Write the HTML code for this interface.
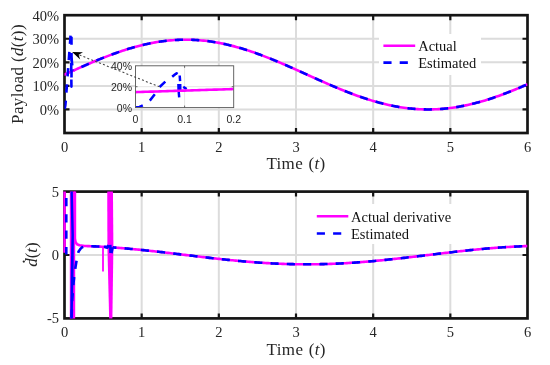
<!DOCTYPE html><html><head><meta charset="utf-8"><style>html,body{margin:0;padding:0;background:#fff;}svg{display:block;}.tk{font-family:"Liberation Serif",serif;font-size:14.5px;fill:#262626;}.lb{font-family:"Liberation Serif",serif;font-size:17px;fill:#262626;}.lg{font-family:"Liberation Serif",serif;font-size:14.5px;fill:#111;}.it{font-family:"Liberation Sans",sans-serif;font-size:10.5px;fill:#262626;}</style></head><body>
<svg width="550" height="365" viewBox="0 0 550 365">
<rect width="550" height="365" fill="#fff"/>
<defs><clipPath id="ct"><rect x="64.50" y="15.20" width="463.00" height="117.80"/></clipPath><clipPath id="cb"><rect x="63.00" y="191.60" width="464.50" height="126.80"/></clipPath><clipPath id="ci"><rect x="135.50" y="65.80" width="98.20" height="41.80"/></clipPath></defs>
<path d="M141.67,15.20 V133.00 M218.83,15.20 V133.00 M296.00,15.20 V133.00 M373.17,15.20 V133.00 M450.33,15.20 V133.00 M64.50,109.44 H527.50 M64.50,85.88 H527.50 M64.50,62.32 H527.50 M64.50,38.76 H527.50" stroke="#dcdcdc" stroke-width="2" fill="none"/>
<path d="M141.67,15.20 v5 M141.67,133.00 v-5 M218.83,15.20 v5 M218.83,133.00 v-5 M296.00,15.20 v5 M296.00,133.00 v-5 M373.17,15.20 v5 M373.17,133.00 v-5 M450.33,15.20 v5 M450.33,133.00 v-5 M64.50,109.44 h5 M527.50,109.44 h-5 M64.50,85.88 h5 M527.50,85.88 h-5 M64.50,62.32 h5 M527.50,62.32 h-5 M64.50,38.76 h5 M527.50,38.76 h-5" stroke="#151515" stroke-width="2.2" fill="none"/>
<rect x="64.50" y="15.20" width="463.00" height="117.80" fill="none" stroke="#151515" stroke-width="2.7"/>
<g clip-path="url(#ct)">
<path d="M64.00,74.57 L64.50,74.57 L66.43,73.70 L68.36,72.83 L70.29,71.96 L72.22,71.09 L74.15,70.22 L76.08,69.36 L78.00,68.50 L79.93,67.64 L81.86,66.79 L83.79,65.94 L85.72,65.10 L87.65,64.27 L89.58,63.44 L91.51,62.61 L93.44,61.80 L95.37,60.99 L97.30,60.19 L99.22,59.40 L101.15,58.62 L103.08,57.85 L105.01,57.09 L106.94,56.35 L108.87,55.61 L110.80,54.88 L112.73,54.17 L114.66,53.47 L116.59,52.78 L118.52,52.11 L120.45,51.45 L122.38,50.80 L124.30,50.17 L126.23,49.56 L128.16,48.96 L130.09,48.37 L132.02,47.81 L133.95,47.26 L135.88,46.72 L137.81,46.21 L139.74,45.71 L141.67,45.23 L143.60,44.77 L145.53,44.33 L147.45,43.90 L149.38,43.50 L151.31,43.11 L153.24,42.74 L155.17,42.40 L157.10,42.07 L159.03,41.77 L160.96,41.48 L162.89,41.22 L164.82,40.97 L166.75,40.75 L168.68,40.55 L170.60,40.37 L172.53,40.21 L174.46,40.07 L176.39,39.96 L178.32,39.86 L180.25,39.79 L182.18,39.74 L184.11,39.71 L186.04,39.70 L187.97,39.72 L189.90,39.75 L191.82,39.81 L193.75,39.89 L195.68,39.99 L197.61,40.12 L199.54,40.26 L201.47,40.43 L203.40,40.61 L205.33,40.82 L207.26,41.05 L209.19,41.30 L211.12,41.57 L213.05,41.87 L214.97,42.18 L216.90,42.51 L218.83,42.87 L220.76,43.24 L222.69,43.63 L224.62,44.04 L226.55,44.47 L228.48,44.92 L230.41,45.39 L232.34,45.88 L234.27,46.38 L236.20,46.90 L238.12,47.44 L240.05,48.00 L241.98,48.57 L243.91,49.16 L245.84,49.76 L247.77,50.38 L249.70,51.02 L251.63,51.67 L253.56,52.33 L255.49,53.01 L257.42,53.70 L259.35,54.41 L261.27,55.13 L263.20,55.86 L265.13,56.60 L267.06,57.35 L268.99,58.11 L270.92,58.89 L272.85,59.67 L274.78,60.46 L276.71,61.26 L278.64,62.07 L280.57,62.89 L282.50,63.72 L284.42,64.55 L286.35,65.39 L288.28,66.23 L290.21,67.08 L292.14,67.93 L294.07,68.79 L296.00,69.65 L297.93,70.51 L299.86,71.38 L301.79,72.25 L303.72,73.12 L305.65,73.99 L307.58,74.86 L309.50,75.74 L311.43,76.61 L313.36,77.48 L315.29,78.34 L317.22,79.21 L319.15,80.07 L321.08,80.93 L323.01,81.79 L324.94,82.64 L326.87,83.48 L328.80,84.32 L330.73,85.16 L332.65,85.98 L334.58,86.80 L336.51,87.62 L338.44,88.42 L340.37,89.21 L342.30,90.00 L344.23,90.78 L346.16,91.54 L348.09,92.30 L350.02,93.05 L351.95,93.78 L353.88,94.50 L355.80,95.21 L357.73,95.91 L359.66,96.59 L361.59,97.26 L363.52,97.91 L365.45,98.55 L367.38,99.18 L369.31,99.79 L371.24,100.38 L373.17,100.96 L375.10,101.52 L377.02,102.07 L378.95,102.59 L380.88,103.10 L382.81,103.60 L384.74,104.07 L386.67,104.53 L388.60,104.96 L390.53,105.38 L392.46,105.78 L394.39,106.16 L396.32,106.52 L398.25,106.86 L400.17,107.18 L402.10,107.47 L404.03,107.75 L405.96,108.01 L407.89,108.25 L409.82,108.46 L411.75,108.66 L413.68,108.83 L415.61,108.98 L417.54,109.11 L419.47,109.22 L421.40,109.31 L423.33,109.37 L425.25,109.42 L427.18,109.44 L429.11,109.44 L431.04,109.42 L432.97,109.37 L434.90,109.31 L436.83,109.22 L438.76,109.11 L440.69,108.98 L442.62,108.83 L444.55,108.65 L446.47,108.46 L448.40,108.24 L450.33,108.01 L452.26,107.75 L454.19,107.47 L456.12,107.17 L458.05,106.85 L459.98,106.51 L461.91,106.15 L463.84,105.77 L465.77,105.38 L467.70,104.96 L469.62,104.52 L471.55,104.07 L473.48,103.59 L475.41,103.10 L477.34,102.59 L479.27,102.06 L481.20,101.52 L483.13,100.95 L485.06,100.38 L486.99,99.78 L488.92,99.17 L490.85,98.55 L492.78,97.91 L494.70,97.25 L496.63,96.58 L498.56,95.90 L500.49,95.20 L502.42,94.49 L504.35,93.77 L506.28,93.04 L508.21,92.29 L510.14,91.54 L512.07,90.77 L514.00,89.99 L515.92,89.21 L517.85,88.41 L519.78,87.61 L521.71,86.80 L523.64,85.98 L525.57,85.15 L527.50,84.31" stroke="#ff00ff" stroke-width="2.60" fill="none" stroke-linejoin="round"/>
<path d="M64.50,108.73 L64.81,108.03 L65.12,106.61 L65.43,104.73 L65.73,101.19 L70.26,39.94 L70.67,34.05 L70.96,32.16 L71.46,35.93 L71.52,50.54 L71.54,69.86 L71.43,86.59 L71.24,69.86 L71.21,56.19 L71.57,57.37 L71.99,62.79 L72.55,67.50 L73.14,70.33 L73.61,70.57 L73.76,70.40" stroke="#0000ff" stroke-width="2.60" fill="none" stroke-dasharray="8.15 8.15" stroke-linejoin="round"/>
<path d="M73.61,70.57 L73.76,70.40 L74.53,70.05 L75.30,69.71 L76.08,69.36 L76.85,69.02 L77.62,68.67 L78.39,68.33 L79.16,67.99 L79.93,67.64 L80.71,67.30 L81.48,66.96 L82.25,66.62 L83.02,66.28 L83.79,65.94 L84.56,65.61 L85.34,65.27 L86.11,64.94 L86.88,64.60 L87.65,64.27 L88.42,63.93 L89.19,63.60 L89.97,63.27 L90.74,62.94 L91.51,62.61 L92.28,62.29 L93.05,61.96 L93.82,61.64 L94.60,61.31 L95.37,60.99 L96.14,60.67 L96.91,60.35 L97.68,60.04 L98.45,59.72 L99.23,59.40 L100.00,59.09 L100.77,58.78 L101.54,58.47 L102.31,58.16 L103.08,57.85 L103.86,57.55 L104.63,57.25 L105.40,56.94 L106.17,56.64 L106.94,56.35 L107.71,56.05 L108.49,55.75 L109.26,55.46 L110.03,55.17 L110.80,54.88 L111.57,54.60 L112.34,54.31 L113.12,54.03 L113.89,53.75 L114.66,53.47 L115.43,53.19 L116.20,52.92 L116.97,52.65 L117.75,52.38 L118.52,52.11 L119.29,51.84 L120.06,51.58 L120.83,51.32 L121.60,51.06 L122.38,50.80 L123.15,50.55 L123.92,50.30 L124.69,50.05 L125.46,49.80 L126.23,49.56 L127.01,49.32 L127.78,49.08 L128.55,48.84 L129.32,48.61 L130.09,48.37 L130.86,48.15 L131.64,47.92 L132.41,47.70 L133.18,47.48 L133.95,47.26 L134.72,47.04 L135.49,46.83 L136.27,46.62 L137.04,46.41 L137.81,46.21 L138.58,46.01 L139.35,45.81 L140.12,45.61 L140.90,45.42 L141.67,45.23 L142.44,45.04 L143.21,44.86 L143.98,44.68 L144.75,44.50 L145.53,44.33 L146.30,44.15 L147.07,43.98 L147.84,43.82 L148.61,43.66 L149.38,43.50 L150.16,43.34 L150.93,43.19 L151.70,43.04 L152.47,42.89 L153.24,42.74 L154.01,42.60 L154.79,42.47 L155.56,42.33 L156.33,42.20 L157.10,42.07 L157.87,41.95 L158.64,41.83 L159.42,41.71 L160.19,41.59 L160.96,41.48 L161.73,41.37 L162.50,41.27 L163.27,41.17 L164.05,41.07 L164.82,40.97 L165.59,40.88 L166.36,40.79 L167.13,40.71 L167.90,40.63 L168.68,40.55 L169.45,40.47 L170.22,40.40 L170.99,40.34 L171.76,40.27 L172.53,40.21 L173.31,40.15 L174.08,40.10 L174.85,40.05 L175.62,40.00 L176.39,39.96 L177.16,39.92 L177.94,39.88 L178.71,39.85 L179.48,39.82 L180.25,39.79 L181.02,39.77 L181.79,39.75 L182.57,39.73 L183.34,39.72 L184.11,39.71 L184.88,39.70 L185.65,39.70 L186.42,39.70 L187.20,39.71 L187.97,39.72 L188.74,39.73 L189.51,39.74 L190.28,39.76 L191.05,39.79 L191.83,39.81 L192.60,39.84 L193.37,39.87 L194.14,39.91 L194.91,39.95 L195.68,39.99 L196.46,40.04 L197.23,40.09 L198.00,40.14 L198.77,40.20 L199.54,40.26 L200.31,40.32 L201.09,40.39 L201.86,40.46 L202.63,40.54 L203.40,40.61 L204.17,40.70 L204.94,40.78 L205.72,40.87 L206.49,40.96 L207.26,41.05 L208.03,41.15 L208.80,41.25 L209.57,41.36 L210.35,41.46 L211.12,41.57 L211.89,41.69 L212.66,41.81 L213.43,41.93 L214.20,42.05 L214.98,42.18 L215.75,42.31 L216.52,42.44 L217.29,42.58 L218.06,42.72 L218.83,42.87 L219.61,43.01 L220.38,43.16 L221.15,43.31 L221.92,43.47 L222.69,43.63 L223.46,43.79 L224.23,43.96 L225.01,44.13 L225.78,44.30 L226.55,44.47 L227.32,44.65 L228.09,44.83 L228.86,45.01 L229.64,45.20 L230.41,45.39 L231.18,45.58 L231.95,45.78 L232.72,45.98 L233.49,46.18 L234.27,46.38 L235.04,46.59 L235.81,46.80 L236.58,47.01 L237.35,47.22 L238.12,47.44 L238.90,47.66 L239.67,47.88 L240.44,48.11 L241.21,48.34 L241.98,48.57 L242.75,48.80 L243.53,49.04 L244.30,49.28 L245.07,49.52 L245.84,49.76 L246.61,50.01 L247.38,50.26 L248.16,50.51 L248.93,50.76 L249.70,51.02 L250.47,51.28 L251.24,51.54 L252.01,51.80 L252.79,52.07 L253.56,52.33 L254.33,52.60 L255.10,52.87 L255.87,53.15 L256.64,53.42 L257.42,53.70 L258.19,53.98 L258.96,54.27 L259.73,54.55 L260.50,54.84 L261.27,55.13 L262.05,55.42 L262.82,55.71 L263.59,56.00 L264.36,56.30 L265.13,56.60 L265.90,56.90 L266.68,57.20 L267.45,57.50 L268.22,57.81 L268.99,58.11 L269.76,58.42 L270.53,58.73 L271.31,59.04 L272.08,59.35 L272.85,59.67 L273.62,59.98 L274.39,60.30 L275.16,60.62 L275.94,60.94 L276.71,61.26 L277.48,61.59 L278.25,61.91 L279.02,62.24 L279.79,62.56 L280.57,62.89 L281.34,63.22 L282.11,63.55 L282.88,63.88 L283.65,64.21 L284.42,64.55 L285.20,64.88 L285.97,65.22 L286.74,65.55 L287.51,65.89 L288.28,66.23 L289.05,66.57 L289.83,66.91 L290.60,67.25 L291.37,67.59 L292.14,67.93 L292.91,68.27 L293.68,68.62 L294.46,68.96 L295.23,69.31 L296.00,69.65 L296.77,70.00 L297.54,70.34 L298.31,70.69 L299.09,71.03 L299.86,71.38 L300.63,71.73 L301.40,72.08 L302.17,72.42 L302.94,72.77 L303.72,73.12 L304.49,73.47 L305.26,73.82 L306.03,74.17 L306.80,74.52 L307.57,74.86 L308.35,75.21 L309.12,75.56 L309.89,75.91 L310.66,76.26 L311.43,76.61 L312.20,76.95 L312.98,77.30 L313.75,77.65 L314.52,78.00 L315.29,78.34 L316.06,78.69 L316.83,79.04 L317.61,79.38 L318.38,79.73 L319.15,80.07 L319.92,80.42 L320.69,80.76 L321.46,81.10 L322.24,81.44 L323.01,81.79 L323.78,82.13 L324.55,82.47 L325.32,82.81 L326.09,83.14 L326.87,83.48 L327.64,83.82 L328.41,84.15 L329.18,84.49 L329.95,84.82 L330.72,85.16 L331.50,85.49 L332.27,85.82 L333.04,86.15 L333.81,86.48 L334.58,86.80 L335.35,87.13 L336.13,87.45 L336.90,87.78 L337.67,88.10 L338.44,88.42 L339.21,88.74 L339.98,89.06 L340.76,89.37 L341.53,89.69 L342.30,90.00 L343.07,90.31 L343.84,90.62 L344.61,90.93 L345.39,91.24 L346.16,91.54 L346.93,91.85 L347.70,92.15 L348.47,92.45 L349.24,92.75 L350.02,93.05 L350.79,93.34 L351.56,93.63 L352.33,93.92 L353.10,94.21 L353.87,94.50 L354.65,94.79 L355.42,95.07 L356.19,95.35 L356.96,95.63 L357.73,95.91 L358.50,96.18 L359.28,96.45 L360.05,96.72 L360.82,96.99 L361.59,97.26 L362.36,97.52 L363.13,97.78 L363.91,98.04 L364.68,98.30 L365.45,98.55 L366.22,98.80 L366.99,99.05 L367.76,99.30 L368.54,99.55 L369.31,99.79 L370.08,100.03 L370.85,100.26 L371.62,100.50 L372.39,100.73 L373.17,100.96 L373.94,101.19 L374.71,101.41 L375.48,101.63 L376.25,101.85 L377.02,102.07 L377.80,102.28 L378.57,102.49 L379.34,102.70 L380.11,102.90 L380.88,103.10 L381.65,103.30 L382.43,103.50 L383.20,103.69 L383.97,103.88 L384.74,104.07 L385.51,104.25 L386.28,104.44 L387.06,104.61 L387.83,104.79 L388.60,104.96 L389.37,105.13 L390.14,105.30 L390.91,105.46 L391.69,105.62 L392.46,105.78 L393.23,105.93 L394.00,106.08 L394.77,106.23 L395.54,106.38 L396.32,106.52 L397.09,106.65 L397.86,106.79 L398.63,106.92 L399.40,107.05 L400.17,107.18 L400.95,107.30 L401.72,107.42 L402.49,107.53 L403.26,107.64 L404.03,107.75 L404.80,107.86 L405.58,107.96 L406.35,108.06 L407.12,108.15 L407.89,108.25 L408.66,108.34 L409.43,108.42 L410.21,108.50 L410.98,108.58 L411.75,108.66 L412.52,108.73 L413.29,108.80 L414.06,108.86 L414.84,108.92 L415.61,108.98 L416.38,109.04 L417.15,109.09 L417.92,109.13 L418.69,109.18 L419.47,109.22 L420.24,109.26 L421.01,109.29 L421.78,109.32 L422.55,109.35 L423.32,109.37 L424.10,109.39 L424.87,109.41 L425.64,109.42 L426.41,109.43 L427.18,109.44 L427.95,109.44 L428.73,109.44 L429.50,109.43 L430.27,109.43 L431.04,109.42 L431.81,109.40 L432.58,109.38 L433.36,109.36 L434.13,109.34 L434.90,109.31 L435.67,109.27 L436.44,109.24 L437.21,109.20 L437.99,109.16 L438.76,109.11 L439.53,109.06 L440.30,109.01 L441.07,108.95 L441.84,108.89 L442.62,108.83 L443.39,108.76 L444.16,108.69 L444.93,108.62 L445.70,108.54 L446.47,108.46 L447.25,108.38 L448.02,108.29 L448.79,108.20 L449.56,108.10 L450.33,108.01 L451.10,107.91 L451.88,107.80 L452.65,107.70 L453.42,107.59 L454.19,107.47 L454.96,107.35 L455.73,107.23 L456.51,107.11 L457.28,106.98 L458.05,106.85 L458.82,106.72 L459.59,106.58 L460.36,106.44 L461.14,106.30 L461.91,106.15 L462.68,106.00 L463.45,105.85 L464.22,105.70 L464.99,105.54 L465.77,105.38 L466.54,105.21 L467.31,105.04 L468.08,104.87 L468.85,104.70 L469.62,104.52 L470.40,104.34 L471.17,104.16 L471.94,103.97 L472.71,103.78 L473.48,103.59 L474.25,103.40 L475.03,103.20 L475.80,103.00 L476.57,102.80 L477.34,102.59 L478.11,102.38 L478.88,102.17 L479.66,101.95 L480.43,101.74 L481.20,101.52 L481.97,101.29 L482.74,101.07 L483.51,100.84 L484.29,100.61 L485.06,100.38 L485.83,100.14 L486.60,99.90 L487.37,99.66 L488.14,99.42 L488.92,99.17 L489.69,98.92 L490.46,98.67 L491.23,98.42 L492.00,98.16 L492.77,97.91 L493.55,97.65 L494.32,97.38 L495.09,97.12 L495.86,96.85 L496.63,96.58 L497.40,96.31 L498.18,96.04 L498.95,95.76 L499.72,95.48 L500.49,95.20 L501.26,94.92 L502.03,94.64 L502.81,94.35 L503.58,94.06 L504.35,93.77 L505.12,93.48 L505.89,93.19 L506.66,92.89 L507.44,92.59 L508.21,92.29 L508.98,91.99 L509.75,91.69 L510.52,91.39 L511.29,91.08 L512.07,90.77 L512.84,90.46 L513.61,90.15 L514.38,89.84 L515.15,89.52 L515.92,89.21 L516.70,88.89 L517.47,88.57 L518.24,88.25 L519.01,87.93 L519.78,87.61 L520.55,87.28 L521.33,86.96 L522.10,86.63 L522.87,86.30 L523.64,85.98 L524.41,85.65 L525.18,85.31 L525.96,84.98 L526.73,84.65 L527.50,84.31" stroke="#0000ff" stroke-width="2.60" fill="none" stroke-dasharray="8.15 8.15" stroke-dashoffset="7.71" stroke-linejoin="round"/>
</g>
<text class="tk" x="59" y="114.84" text-anchor="end">0%</text>
<text class="tk" x="59" y="91.28" text-anchor="end">10%</text>
<text class="tk" x="59" y="67.72" text-anchor="end">20%</text>
<text class="tk" x="59" y="44.16" text-anchor="end">30%</text>
<text class="tk" x="59" y="20.60" text-anchor="end">40%</text>
<text class="tk" x="64.50" y="151.8" text-anchor="middle">0</text>
<text class="tk" x="141.67" y="151.8" text-anchor="middle">1</text>
<text class="tk" x="218.83" y="151.8" text-anchor="middle">2</text>
<text class="tk" x="296.00" y="151.8" text-anchor="middle">3</text>
<text class="tk" x="373.17" y="151.8" text-anchor="middle">4</text>
<text class="tk" x="450.33" y="151.8" text-anchor="middle">5</text>
<text class="tk" x="527.50" y="151.8" text-anchor="middle">6</text>
<text class="lb" x="266.4" y="169.4" letter-spacing="0.35">Time</text><text class="lb" x="308.6" y="169.4" letter-spacing="0.3">(<tspan font-style="italic">t</tspan>)</text>
<text class="lb" letter-spacing="0.35" transform="translate(22.5,74) rotate(-90)" text-anchor="middle">Payload (<tspan font-style="italic">d</tspan>(<tspan font-style="italic">t</tspan>))</text>
<rect x="379" y="34" width="102" height="41" fill="#fff"/>
<path d="M383.4,45.8 H415.2" stroke="#ff00ff" stroke-width="2.60"/>
<path d="M383.4,62.6 H415.2" stroke="#0000ff" stroke-width="2.60" stroke-dasharray="8.15 8.15"/>
<text class="lg" x="418.2" y="51.2">Actual</text>
<text class="lg" x="418.2" y="68.2">Estimated</text>
<rect x="135.50" y="65.80" width="98.20" height="41.80" fill="#fff"/>
<path d="M184.60,65.80 V107.60 M135.50,86.70 H233.70" stroke="#e6e6e6" stroke-width="1"/>
<g clip-path="url(#ci)">
<path d="M135.90,107.30 L139.50,106.90 L142.80,105.40 M149.80,100.60 L154.80,94.30 M159.60,87.00 L165.30,81.70 M172.20,76.80 L175.20,74.20 L176.60,73.30 L177.60,74.00 M179.70,75.50 L180.10,81.20 M180.20,84.00 L180.30,90.00 M178.40,84.00 L178.60,90.50 L179.20,97.30 M183.20,86.90 L186.70,89.00" stroke="#0000ff" stroke-width="2.5" fill="none" stroke-linejoin="round"/>
<path d="M135.50,92.13 L137.96,92.06 L140.41,91.98 L142.87,91.90 L145.32,91.82 L147.78,91.75 L150.23,91.67 L152.69,91.59 L155.14,91.52 L157.59,91.44 L160.05,91.36 L162.50,91.28 L164.96,91.21 L167.41,91.13 L169.87,91.05 L172.32,90.98 L174.78,90.90 L177.23,90.82 L179.69,90.74 L182.14,90.67 L184.60,90.59 L187.06,90.51 L189.51,90.44 L191.97,90.36 L194.42,90.28 L196.88,90.21 L199.33,90.13 L201.78,90.05 L204.24,89.98 L206.69,89.90 L209.15,89.82 L211.60,89.75 L214.06,89.67 L216.51,89.59 L218.97,89.52 L221.42,89.44 L223.88,89.37 L226.33,89.29 L228.79,89.21 L231.24,89.14 L233.70,89.06" stroke="#ff00ff" stroke-width="2.60" fill="none" stroke-linejoin="round"/>
</g>
<path d="M184.60,107.60 v-2 M184.60,65.80 v2 M135.50,86.70 h2 M233.70,86.70 h-2" stroke="#444" stroke-width="0.8"/>
<rect x="135.50" y="65.80" width="98.20" height="41.80" fill="none" stroke="#555" stroke-width="0.9"/>
<text class="it" x="132" y="112.20" text-anchor="end">0%</text>
<text class="it" x="132" y="91.20" text-anchor="end">20%</text>
<text class="it" x="132" y="69.50" text-anchor="end">40%</text>
<text class="it" x="135.50" y="123.3" text-anchor="middle">0</text>
<text class="it" x="184.60" y="123.3" text-anchor="middle">0.1</text>
<text class="it" x="233.70" y="123.3" text-anchor="middle">0.2</text>
<path d="M79.54,55.05 L160.00,87.00" stroke="#444" stroke-width="1.1" stroke-dasharray="2 2.2"/>
<path d="M72.10,52.10 L82.98,52.33 L78.61,54.68 L80.18,59.40 Z" fill="#000"/>
<path d="M141.67,191.60 V318.40 M218.83,191.60 V318.40 M296.00,191.60 V318.40 M373.17,191.60 V318.40 M450.33,191.60 V318.40 M64.50,255.00 H527.50" stroke="#dcdcdc" stroke-width="2" fill="none"/>
<path d="M141.67,191.60 v5 M141.67,318.40 v-5 M218.83,191.60 v5 M218.83,318.40 v-5 M296.00,191.60 v5 M296.00,318.40 v-5 M373.17,191.60 v5 M373.17,318.40 v-5 M450.33,191.60 v5 M450.33,318.40 v-5 M64.50,255.00 h5 M527.50,255.00 h-5" stroke="#151515" stroke-width="2.2" fill="none"/>
<rect x="64.50" y="191.60" width="463.00" height="126.80" fill="none" stroke="#151515" stroke-width="2.7"/>
<g clip-path="url(#cb)">
<path d="M64.60,252.80 L64.60,185.00" stroke="#ff00ff" stroke-width="2.60" fill="none"/>
<rect x="69.8" y="185" width="5.4" height="140" fill="#ff00ff"/>
<path d="M74.90,185.00 L74.90,238.50 L75.50,242.00 L77.00,244.20 L79.50,245.20 L83.00,245.70 L84.56,245.99 L86.11,246.04 L87.65,246.10 L89.19,246.15 L90.74,246.21 L92.28,246.28 L93.82,246.35 L95.37,246.42 L96.91,246.49 L98.45,246.57 L100.00,246.65 L101.54,246.73 L103.08,246.82 L104.63,246.91 L106.17,247.01 L107.71,247.10 L109.26,247.20 L110.80,247.31 L112.34,247.41 L113.89,247.52 L115.43,247.64 L116.97,247.75 L118.52,247.87 L120.06,247.99 L121.60,248.12 L123.15,248.24 L124.69,248.37 L126.23,248.51 L127.78,248.64 L129.32,248.78 L130.86,248.92 L132.41,249.06 L133.95,249.21 L135.49,249.35 L137.04,249.50 L138.58,249.65 L140.12,249.81 L141.67,249.96 L143.21,250.12 L144.75,250.28 L146.30,250.44 L147.84,250.61 L149.38,250.77 L150.93,250.94 L152.47,251.11 L154.01,251.28 L155.56,251.45 L157.10,251.62 L158.64,251.80 L160.19,251.97 L161.73,252.15 L163.27,252.33 L164.82,252.51 L166.36,252.69 L167.90,252.87 L169.45,253.05 L170.99,253.23 L172.53,253.42 L174.08,253.60 L175.62,253.78 L177.16,253.97 L178.71,254.15 L180.25,254.34 L181.79,254.53 L183.34,254.71 L184.88,254.90 L186.42,255.09 L187.97,255.27 L189.51,255.46 L191.05,255.64 L192.60,255.83 L194.14,256.02 L195.68,256.20 L197.23,256.39 L198.77,256.57 L200.31,256.75 L201.86,256.94 L203.40,257.12 L204.94,257.30 L206.49,257.48 L208.03,257.66 L209.57,257.84 L211.12,258.01 L212.66,258.19 L214.20,258.36 L215.75,258.54 L217.29,258.71 L218.83,258.88 L220.38,259.05 L221.92,259.21 L223.46,259.38 L225.01,259.54 L226.55,259.71 L228.09,259.87 L229.64,260.02 L231.18,260.18 L232.72,260.33 L234.27,260.48 L235.81,260.63 L237.35,260.78 L238.90,260.93 L240.44,261.07 L241.98,261.21 L243.53,261.35 L245.07,261.48 L246.61,261.62 L248.16,261.75 L249.70,261.87 L251.24,262.00 L252.79,262.12 L254.33,262.24 L255.87,262.35 L257.42,262.47 L258.96,262.58 L260.50,262.68 L262.05,262.79 L263.59,262.89 L265.13,262.99 L266.68,263.08 L268.22,263.17 L269.76,263.26 L271.31,263.34 L272.85,263.43 L274.39,263.50 L275.94,263.58 L277.48,263.65 L279.02,263.72 L280.57,263.78 L282.11,263.84 L283.65,263.90 L285.20,263.95 L286.74,264.00 L288.28,264.05 L289.83,264.09 L291.37,264.13 L292.91,264.17 L294.46,264.20 L296.00,264.23 L297.54,264.25 L299.09,264.27 L300.63,264.29 L302.17,264.30 L303.72,264.31 L305.26,264.32 L306.80,264.32 L308.35,264.32 L309.89,264.31 L311.43,264.30 L312.98,264.29 L314.52,264.27 L316.06,264.25 L317.61,264.23 L319.15,264.20 L320.69,264.17 L322.24,264.14 L323.78,264.10 L325.32,264.06 L326.87,264.01 L328.41,263.96 L329.95,263.91 L331.50,263.85 L333.04,263.79 L334.58,263.73 L336.13,263.66 L337.67,263.59 L339.21,263.52 L340.76,263.44 L342.30,263.36 L343.84,263.27 L345.39,263.19 L346.93,263.10 L348.47,263.00 L350.02,262.90 L351.56,262.80 L353.10,262.70 L354.65,262.59 L356.19,262.48 L357.73,262.37 L359.28,262.26 L360.82,262.14 L362.36,262.02 L363.91,261.89 L365.45,261.77 L366.99,261.64 L368.54,261.50 L370.08,261.37 L371.62,261.23 L373.17,261.09 L374.71,260.95 L376.25,260.80 L377.80,260.66 L379.34,260.51 L380.88,260.36 L382.43,260.20 L383.97,260.05 L385.51,259.89 L387.06,259.73 L388.60,259.57 L390.14,259.41 L391.69,259.24 L393.23,259.07 L394.77,258.91 L396.32,258.74 L397.86,258.56 L399.40,258.39 L400.95,258.22 L402.49,258.04 L404.03,257.86 L405.58,257.69 L407.12,257.51 L408.66,257.33 L410.21,257.15 L411.75,256.96 L413.29,256.78 L414.84,256.60 L416.38,256.41 L417.92,256.23 L419.47,256.05 L421.01,255.86 L422.55,255.67 L424.10,255.49 L425.64,255.30 L427.18,255.12 L428.73,254.93 L430.27,254.74 L431.81,254.56 L433.36,254.37 L434.90,254.18 L436.44,254.00 L437.99,253.81 L439.53,253.63 L441.07,253.45 L442.62,253.26 L444.16,253.08 L445.70,252.90 L447.25,252.72 L448.79,252.54 L450.33,252.36 L451.88,252.18 L453.42,252.00 L454.96,251.83 L456.51,251.65 L458.05,251.48 L459.59,251.31 L461.14,251.14 L462.68,250.97 L464.22,250.80 L465.77,250.63 L467.31,250.47 L468.85,250.31 L470.40,250.15 L471.94,249.99 L473.48,249.83 L475.03,249.68 L476.57,249.53 L478.11,249.38 L479.66,249.23 L481.20,249.08 L482.74,248.94 L484.29,248.80 L485.83,248.66 L487.37,248.53 L488.92,248.40 L490.46,248.27 L492.00,248.14 L493.55,248.01 L495.09,247.89 L496.63,247.77 L498.18,247.66 L499.72,247.54 L501.26,247.43 L502.81,247.32 L504.35,247.22 L505.89,247.12 L507.44,247.02 L508.98,246.93 L510.52,246.84 L512.07,246.75 L513.61,246.66 L515.15,246.58 L516.70,246.50 L518.24,246.43 L519.78,246.36 L521.33,246.29 L522.87,246.22 L524.41,246.16 L525.96,246.11 L527.50,246.05" stroke="#ff00ff" stroke-width="2.60" fill="none" stroke-linejoin="round"/>
<path d="M103,246.82 V271.5" stroke="#ff00ff" stroke-width="1.8"/>
<path d="M107.2,185 L112.9,185 L113.4,247 L112.3,325 L109.3,325 L107.4,247 Z" fill="#ff00ff"/>
<path d="M66.3,198 V254.5" stroke="#0000ff" stroke-width="2.60" stroke-dasharray="8.15 8.15"/>
<path d="M70.3,185 L72.7,185 L73.9,235 L73.6,270 L72.6,325 L70.2,325 L70.8,270 L71.4,235 Z" fill="#0000ff"/>
<path d="M71.30,325.00 L72.20,300.00 L73.60,282.00 L75.50,267.00 L77.20,257.00 L78.60,251.40 L80.20,249.20 L82.00,247.40 L83.80,246.50 L88.00,246.10 L89.19,246.15 L90.74,246.21 L92.28,246.28 L93.82,246.35 L95.37,246.42 L96.91,246.49 L98.45,246.57 L100.00,246.65 L101.54,246.73 L103.08,246.82 L104.63,246.91 L106.17,247.01 L107.71,247.10 L105.00,246.91 L107.30,247.70 L110.20,241.10 L110.60,257.10 L112.70,247.30" stroke="#0000ff" stroke-width="2.60" fill="none" stroke-dasharray="8.15 8.15" stroke-dashoffset="74.11" stroke-linejoin="round"/>
<path d="M112.70,247.30 L113.89,247.52 L115.43,247.64 L116.97,247.75 L118.52,247.87 L120.06,247.99 L121.60,248.12 L123.15,248.24 L124.69,248.37 L126.23,248.51 L127.78,248.64 L129.32,248.78 L130.86,248.92 L132.41,249.06 L133.95,249.21 L135.49,249.35 L137.04,249.50 L138.58,249.65 L140.12,249.81 L141.67,249.96 L143.21,250.12 L144.75,250.28 L146.30,250.44 L147.84,250.61 L149.38,250.77 L150.93,250.94 L152.47,251.11 L154.01,251.28 L155.56,251.45 L157.10,251.62 L158.64,251.80 L160.19,251.97 L161.73,252.15 L163.27,252.33 L164.82,252.51 L166.36,252.69 L167.90,252.87 L169.45,253.05 L170.99,253.23 L172.53,253.42 L174.08,253.60 L175.62,253.78 L177.16,253.97 L178.71,254.15 L180.25,254.34 L181.79,254.53 L183.34,254.71 L184.88,254.90 L186.42,255.09 L187.97,255.27 L189.51,255.46 L191.05,255.64 L192.60,255.83 L194.14,256.02 L195.68,256.20 L197.23,256.39 L198.77,256.57 L200.31,256.75 L201.86,256.94 L203.40,257.12 L204.94,257.30 L206.49,257.48 L208.03,257.66 L209.57,257.84 L211.12,258.01 L212.66,258.19 L214.20,258.36 L215.75,258.54 L217.29,258.71 L218.83,258.88 L220.38,259.05 L221.92,259.21 L223.46,259.38 L225.01,259.54 L226.55,259.71 L228.09,259.87 L229.64,260.02 L231.18,260.18 L232.72,260.33 L234.27,260.48 L235.81,260.63 L237.35,260.78 L238.90,260.93 L240.44,261.07 L241.98,261.21 L243.53,261.35 L245.07,261.48 L246.61,261.62 L248.16,261.75 L249.70,261.87 L251.24,262.00 L252.79,262.12 L254.33,262.24 L255.87,262.35 L257.42,262.47 L258.96,262.58 L260.50,262.68 L262.05,262.79 L263.59,262.89 L265.13,262.99 L266.68,263.08 L268.22,263.17 L269.76,263.26 L271.31,263.34 L272.85,263.43 L274.39,263.50 L275.94,263.58 L277.48,263.65 L279.02,263.72 L280.57,263.78 L282.11,263.84 L283.65,263.90 L285.20,263.95 L286.74,264.00 L288.28,264.05 L289.83,264.09 L291.37,264.13 L292.91,264.17 L294.46,264.20 L296.00,264.23 L297.54,264.25 L299.09,264.27 L300.63,264.29 L302.17,264.30 L303.72,264.31 L305.26,264.32 L306.80,264.32 L308.35,264.32 L309.89,264.31 L311.43,264.30 L312.98,264.29 L314.52,264.27 L316.06,264.25 L317.61,264.23 L319.15,264.20 L320.69,264.17 L322.24,264.14 L323.78,264.10 L325.32,264.06 L326.87,264.01 L328.41,263.96 L329.95,263.91 L331.50,263.85 L333.04,263.79 L334.58,263.73 L336.13,263.66 L337.67,263.59 L339.21,263.52 L340.76,263.44 L342.30,263.36 L343.84,263.27 L345.39,263.19 L346.93,263.10 L348.47,263.00 L350.02,262.90 L351.56,262.80 L353.10,262.70 L354.65,262.59 L356.19,262.48 L357.73,262.37 L359.28,262.26 L360.82,262.14 L362.36,262.02 L363.91,261.89 L365.45,261.77 L366.99,261.64 L368.54,261.50 L370.08,261.37 L371.62,261.23 L373.17,261.09 L374.71,260.95 L376.25,260.80 L377.80,260.66 L379.34,260.51 L380.88,260.36 L382.43,260.20 L383.97,260.05 L385.51,259.89 L387.06,259.73 L388.60,259.57 L390.14,259.41 L391.69,259.24 L393.23,259.07 L394.77,258.91 L396.32,258.74 L397.86,258.56 L399.40,258.39 L400.95,258.22 L402.49,258.04 L404.03,257.86 L405.58,257.69 L407.12,257.51 L408.66,257.33 L410.21,257.15 L411.75,256.96 L413.29,256.78 L414.84,256.60 L416.38,256.41 L417.92,256.23 L419.47,256.05 L421.01,255.86 L422.55,255.67 L424.10,255.49 L425.64,255.30 L427.18,255.12 L428.73,254.93 L430.27,254.74 L431.81,254.56 L433.36,254.37 L434.90,254.18 L436.44,254.00 L437.99,253.81 L439.53,253.63 L441.07,253.45 L442.62,253.26 L444.16,253.08 L445.70,252.90 L447.25,252.72 L448.79,252.54 L450.33,252.36 L451.88,252.18 L453.42,252.00 L454.96,251.83 L456.51,251.65 L458.05,251.48 L459.59,251.31 L461.14,251.14 L462.68,250.97 L464.22,250.80 L465.77,250.63 L467.31,250.47 L468.85,250.31 L470.40,250.15 L471.94,249.99 L473.48,249.83 L475.03,249.68 L476.57,249.53 L478.11,249.38 L479.66,249.23 L481.20,249.08 L482.74,248.94 L484.29,248.80 L485.83,248.66 L487.37,248.53 L488.92,248.40 L490.46,248.27 L492.00,248.14 L493.55,248.01 L495.09,247.89 L496.63,247.77 L498.18,247.66 L499.72,247.54 L501.26,247.43 L502.81,247.32 L504.35,247.22 L505.89,247.12 L507.44,247.02 L508.98,246.93 L510.52,246.84 L512.07,246.75 L513.61,246.66 L515.15,246.58 L516.70,246.50 L518.24,246.43 L519.78,246.36 L521.33,246.29 L522.87,246.22 L524.41,246.16 L525.96,246.11 L527.50,246.05" stroke="#0000ff" stroke-width="2.60" fill="none" stroke-dasharray="8.15 8.15" stroke-dashoffset="4.35" stroke-linejoin="round"/>
</g>
<text class="tk" x="59" y="196.60" text-anchor="end">5</text>
<text class="tk" x="59" y="260.00" text-anchor="end">0</text>
<text class="tk" x="59" y="323.40" text-anchor="end">-5</text>
<text class="tk" x="64.50" y="336.8" text-anchor="middle">0</text>
<text class="tk" x="141.67" y="336.8" text-anchor="middle">1</text>
<text class="tk" x="218.83" y="336.8" text-anchor="middle">2</text>
<text class="tk" x="296.00" y="336.8" text-anchor="middle">3</text>
<text class="tk" x="373.17" y="336.8" text-anchor="middle">4</text>
<text class="tk" x="450.33" y="336.8" text-anchor="middle">5</text>
<text class="tk" x="527.50" y="336.8" text-anchor="middle">6</text>
<text class="lb" x="266.6" y="355.2" letter-spacing="0.35">Time</text><text class="lb" x="308.8" y="355.2" letter-spacing="0.3">(<tspan font-style="italic">t</tspan>)</text>
<text class="lb" transform="translate(37,254.5) rotate(-90)" text-anchor="middle"><tspan font-style="italic">d</tspan>(<tspan font-style="italic">t</tspan>)</text>
<circle cx="23.8" cy="261.6" r="1.15" fill="#262626"/>
<rect x="312" y="204" width="145" height="40" fill="#fff"/>
<path d="M316.8,216.3 H348.3" stroke="#ff00ff" stroke-width="2.60"/>
<path d="M316.8,233.5 H348.3" stroke="#0000ff" stroke-width="2.60" stroke-dasharray="8.15 8.15"/>
<text class="lg" x="351" y="222">Actual derivative</text>
<text class="lg" x="351" y="239">Estimated</text>
</svg></body></html>
